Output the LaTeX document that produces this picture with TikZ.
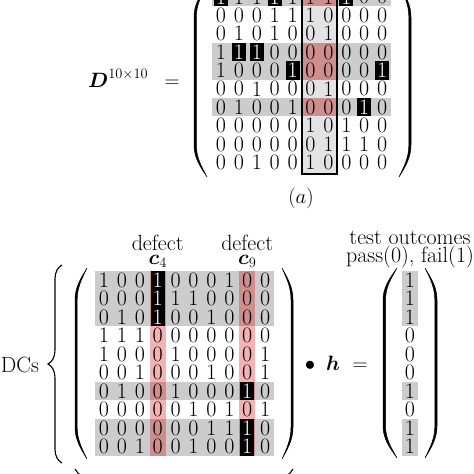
\documentclass[tikz,border=0pt]{standalone}
\usepackage{amsmath}
\usetikzlibrary{decorations.pathreplacing}

% big parenthesis: tips at x=#1, from y=#2 to y=#3, bulge #4 (negative = left)
\newcommand{\paren}[4]{%
  \filldraw[line width=0.5pt] ({#1},{#2})
    .. controls ({#1+0.5*(#4)},{#2+10}) and ({#1+(#4)},{#2+19}) .. ({#1+(#4)},{#2+32})
    -- ({#1+(#4)},{#3-32})
    .. controls ({#1+(#4)},{#3-19}) and ({#1+0.5*(#4)},{#3-10}) .. ({#1},{#3})
    .. controls ({#1+0.4*(#4)},{#3-10}) and ({#1+0.82*(#4)},{#3-19}) .. ({#1+0.82*(#4)},{#3-32})
    -- ({#1+0.82*(#4)},{#2+32})
    .. controls ({#1+0.82*(#4)},{#2+19}) and ({#1+0.4*(#4)},{#2+10}) .. ({#1},{#2}) -- cycle;}

\begin{document}
\begin{tikzpicture}[
  x=1pt, y=-1pt,
  font=\fontsize{22}{25}\selectfont,
  cell/.style={inner sep=0pt},
  hit/.style={cell, fill=black, text=white, minimum width=14pt, minimum height=18.5pt},
  pass/.style={cell, fill=black!20, minimum width=16pt, minimum height=18.5pt},
  band/.style={fill=black!20},
  defcol/.style={fill=red!85!black, fill opacity=0.3},
  lbl/.style={inner sep=0pt, anchor=base},
  brc/.style={decorate, decoration={brace, amplitude=14pt}, line width=1.1pt},
]
  \useasboundingbox (0,0) rectangle (474,474);
  \clip (0,0) rectangle (474,474);

  % ----- (a) fault dictionary D -----
  \fill[black!11] (302,-20) rectangle (337,175);
  \foreach \r in {1,4,5,7}
    \fill[band] (212,{-30.8+\r*18.4}) rectangle (391,{-12.4+\r*18.4});
  \foreach \r in {1,4,5,7}
    \fill[defcol] (302,{-30.8+\r*18.4}) rectangle (337,{-12.4+\r*18.4});

  \foreach \vals [count=\r] in {{2,1,1,2,1,1,1,2,0,0},{0,0,0,1,1,1,0,0,0,0},
      {0,1,0,1,0,0,1,0,0,0},{1,2,2,0,0,0,0,0,0,0},{1,0,0,0,2,0,0,0,0,2},
      {0,0,1,0,0,0,1,0,0,0},{0,1,0,0,1,0,0,0,2,0},{0,0,0,0,0,1,0,1,0,0},
      {0,0,0,0,0,0,1,1,1,0},{0,0,1,0,0,1,0,0,0,0}}
    \foreach \v [count=\c] in \vals {
      \ifnum\v>1
        \node[hit] (d-\r-\c) at ({203.1+\c*17.9},{-21.6+\r*18.4}) {1};
      \else
        \node[cell] (d-\r-\c) at ({203.1+\c*17.9},{-21.6+\r*18.4}) {\v};
      \fi
    }
  \draw[line width=1.5pt] (302,-20) rectangle (337,174);

  \paren{207}{-15}{177}{-13}
  \paren{399}{-15}{177}{12}
  \node[lbl, anchor=base west] (dlab) at (88,87) {$\boldsymbol{D}^{10\times 10}$};
  \node[lbl] (deq) at (172,87) {$=$};
  \node[lbl] (alab) at (301,203) {$(a)$};

  % ----- (b) defect detection -----
  \foreach \r in {1,2,3,7,9,10}
    \fill[band] (95,{252.25+\r*18.5}) rectangle (274,{270.75+\r*18.5});
  \foreach \c in {4,9}
    \fill[defcol] ({78.1+\c*17.9},270.75) rectangle ({94.1+\c*17.9},455.75);

  \foreach \vals [count=\r] in {{1,0,0,2,0,0,0,1,0,0},{0,0,0,2,1,1,0,0,0,0},
      {0,1,0,2,0,0,1,0,0,0},{1,1,1,0,0,0,0,0,0,0},{1,0,0,0,1,0,0,0,0,1},
      {0,0,1,0,0,0,1,0,0,1},{0,1,0,0,1,0,0,0,2,0},{0,0,0,0,0,1,0,1,0,1},
      {0,0,0,0,0,0,1,1,2,0},{0,0,1,0,0,1,0,0,2,0}}
    \foreach \v [count=\c] in \vals {
      \ifnum\v>1
        \node[hit] (m-\r-\c) at ({86.1+\c*17.9},{261.5+\r*18.5}) {1};
      \else
        \node[cell] (m-\r-\c) at ({86.1+\c*17.9},{261.5+\r*18.5}) {\v};
      \fi
    }

  % test outcome vector
  \foreach \v [count=\r] in {1,1,1,0,0,0,1,0,1,1} {
    \ifnum\v=1
      \node[pass] (h-\r) at (410,{261.5+\r*18.5}) {1};
    \else
      \node[cell] (h-\r) at (410,{261.5+\r*18.5}) {0};
    \fi
  }

  \paren{87}{268}{459}{-12}
  \paren{282}{268}{459}{11}
  \paren{397}{268}{458}{-14}
  \paren{425}{268}{458}{12}

  \node[lbl] (def4) at (157.7,250) {defect};
  \node[lbl] (c4) at (157.7,264) {$\boldsymbol{c}_4$};
  \node[lbl] (def9) at (247.2,250) {defect};
  \node[lbl] (c9) at (247.2,264) {$\boldsymbol{c}_9$};
  \node[lbl] (outc) at (410,244) {test outcomes};
  \node[lbl] (pf) at (410,262) {pass(0), fail(1)};

  \node[lbl] (dot) at (310,370.5) {$\bullet$};
  \node[lbl] (hvec) at (333,370.5) {$\boldsymbol{h}$};
  \node[lbl] (heq) at (360,370.5) {$=$};

  \node[lbl] (dcs) at (20,372) {DCs};
  \coordinate (brtop) at (62,265);
  \coordinate (brbot) at (62,463);
  \draw[brc] (brbot) -- (brtop);
  \coordinate (ubl) at (75,469);
  \coordinate (ubr) at (293,469);
  \draw[brc, decoration={amplitude=20pt}] (ubr) -- (ubl);
\end{tikzpicture}
\end{document}
